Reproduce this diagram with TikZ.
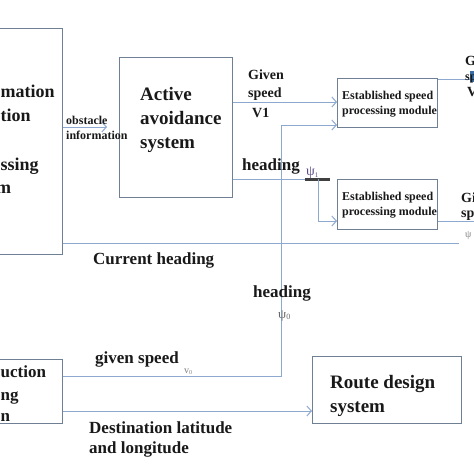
\documentclass[tikz,border=0pt]{standalone}
\usepackage{fontspec}
\setmainfont{Liberation Serif}
\usetikzlibrary{arrows.meta}
\definecolor{lnc}{HTML}{8DA9D0}
\definecolor{bxc}{HTML}{6F8094}
\definecolor{psic}{HTML}{5A4A8A}
\definecolor{hlc}{HTML}{3A6EA5}
\begin{document}
\begin{tikzpicture}[x=1pt,y=-1pt,
  box/.style={draw=bxc, line width=0.9pt, inner sep=0pt, anchor=north west},
  ln/.style={draw=lnc, line width=1pt},
  arr/.style={ln, -{Straight Barb[length=4.5pt,width=10pt,line width=1pt]}},
  lb/.style={anchor=base west, inner sep=0pt, font=\bfseries\fontsize{#1}{#1}\selectfont, text=black!90},
  grk/.style={anchor=base west, inner sep=0pt, text=gray, font=\fontsize{#1}{#1}\selectfont}]
\useasboundingbox (0,0) rectangle (474,474);
\clip (0,0) rectangle (474,474);
\fill[white] (0,0) rectangle (474,474);

% boxes
\node[box, minimum width=72pt, minimum height=226pt] (info) at (-10,28) {};
\node[box, minimum width=72pt, minimum height=64pt] (instr) at (-10,359) {};
\node[box, minimum width=113pt, minimum height=140pt] (active) at (119,57) {};
\node[box, minimum width=100pt, minimum height=49pt] (est1) at (337,78) {};
\node[box, minimum width=100pt, minimum height=50pt] (est2) at (337,179) {};
\node[box, minimum width=149pt, minimum height=67pt] (route) at (312,356) {};

% coordinates
\coordinate (obsend) at (107,127);
\coordinate (out1) at (474,79);
\coordinate (barL) at (305,179);
\coordinate (barR) at (330,179);
\coordinate (barM) at (318,179);
\coordinate (barD) at (318,221);
\coordinate (out2) at (474,221);
\coordinate (chend) at (459,243);
\coordinate (vturn) at (281,376);
\coordinate (vtop) at (281,125);
\coordinate (v1y) at (0,102);
\coordinate (dly) at (0,411);

% connectors
\draw[arr] (info.east |- obsend) -- (obsend);
\draw[arr] (active.east |- v1y) -- (est1.west |- v1y);
\draw[ln] (est1.east |- out1) -- (out1);
\draw[ln] (active.east |- barL) -- (barL);
\draw[line width=3pt, color=black!75] (barL) -- (barR);
\draw[arr] (barM) -- (barD) -- (est2.west |- barD);
\draw[ln] (est2.east |- out2) -- (out2);
\draw[ln] (info.east |- chend) -- (chend);
\draw[arr] (instr.east |- vturn) -- (vturn) -- (vtop) -- (est1.west |- vtop);
\draw[arr] (instr.east |- dly) -- (route.west |- dly);

% box texts
\node[lb=18] (i1) at (0.5,97) {mation};
\node[lb=18] (i2) at (0.5,121) {tion};
\node[lb=18] (i3) at (0.5,170) {ssing};
\node[lb=18] (i4) at (-4,193) {m};
\node[lb=17] (s1) at (0.5,377) {uction};
\node[lb=17] (s2) at (0.5,400) {ng};
\node[lb=17] (s3) at (0.5,421) {n};
\node[lb=19] (a1) at (140,100) {Active};
\node[lb=19] (a2) at (140,124) {avoidance};
\node[lb=19] (a3) at (140,148) {system};
\node[lb=12] (e11) at (342,99) {Established speed};
\node[lb=12] (e12) at (342,114) {processing module};
\node[lb=12] (e21) at (342,200) {Established speed};
\node[lb=12] (e22) at (342,215) {processing module};
\node[lb=19] (r1) at (330,388) {Route design};
\node[lb=19] (r2) at (330,412) {system};

% connector labels
\node[lb=12] (o1) at (66,124) {obstacle};
\node[lb=12] (o2) at (66,139) {information};
\node[lb=14] (g1) at (248,79) {Given};
\node[lb=14] (g2) at (248,97) {speed};
\node[lb=14] (g3) at (252,117) {V1};
\node[lb=17] (h1) at (242,170) {heading};
\node[grk=14, text=psic] (p1) at (306,175) {ψ\raisebox{-2pt}{\fontsize{7}{7}\selectfont 1}};
\node[lb=17] (ch) at (93,264) {Current heading};
\node[lb=17] (h2) at (253,297) {heading};
\node[grk=13, text=black!60] (p0) at (278,318) {ψ\raisebox{-1pt}{\fontsize{8}{8}\selectfont 0}};
\node[lb=17] (gs) at (95,363) {given speed};
\node[grk=10, text=gray] (v0) at (184,373) {v\raisebox{-1.5pt}{\fontsize{6}{6}\selectfont 0}};
\node[lb=17] (d1) at (89,433) {Destination latitude};
\node[lb=17] (d2) at (89,453) {and longitude};

% right edge fragments
\fill[hlc] (470,71) rectangle (476,82);
\node[lb=14] (f1) at (465,65) {G};
\node[lb=12] (f2) at (465,80) {sp};
\node[lb=14] (f3) at (467,96) {V};
\node[lb=14] (f4) at (461,202) {Gi};
\node[lb=14] (f5) at (461,217) {sp};
\node[grk=10, text=gray] (p2) at (465,237) {ψ};
\end{tikzpicture}
\end{document}
